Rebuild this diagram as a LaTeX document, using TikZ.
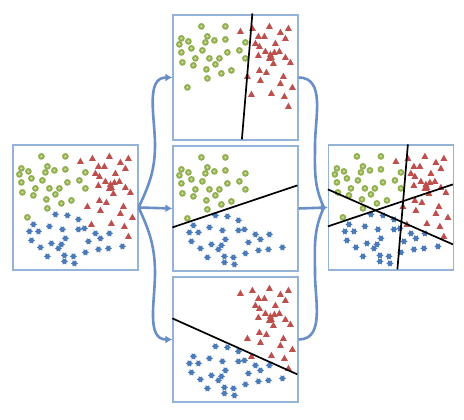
\documentclass[tikz,border=0pt]{standalone}
\usepackage{xcolor}
\usetikzlibrary{arrows.meta}

\definecolor{panelblue}{HTML}{95B3D7}
\definecolor{arrowblue}{HTML}{6A8FC6}
\definecolor{ptgreen}{HTML}{93B050}
\definecolor{ptgreenlt}{HTML}{C9DBA0}
\definecolor{ptred}{HTML}{BD4F4C}
\definecolor{ptblue}{HTML}{4A7AB8}

\tikzset{
  panel/.style={draw=panelblue, line width=1.2pt, minimum size=125pt, inner sep=0pt},
  flow/.style={draw=arrowblue, line width=2.6pt},
  cut/.style={black, line width=1.7pt},
  grn/.pic={\fill[ptgreen] (0,0) circle (3.4); \fill[ptgreenlt] (0,0) circle (1.3);},
  tri/.pic={\fill[ptred] (-3.5,-2.6) -- (3.5,-2.6) -- (0,3.7) -- cycle;},
  blu/.pic={\fill[ptblue] (0:3.6) -- (30:2.2) -- (60:3.6) -- (90:2.2) -- (120:3.6) -- (150:2.2)
      -- (180:3.6) -- (210:2.2) -- (240:3.6) -- (270:2.2) -- (300:3.6) -- (330:2.2) -- cycle;}
}

% the three classes, same places in every panel (y grows downwards)
\newcommand{\greenpts}{%
  \foreach \x/\y in {29/12,53/12,35/22,9/24,16/27,33/28,42/26,53/25,7/30,73/28,
                     19/34,30/36,9/38,55/38,67/36,23/44,37/44,47/44,10/48,73/44,
                     21/51,43/50,34/55,59/56,49/59,35/64,15/73}
    \pic at (\x,\y) {grn};
}
\newcommand{\redpts}{%
  \foreach \x/\y in {68/17,80/14,97/12,116/14,108/18,86/22,92/22,113/24,83/29,87/32,
                     103/29,107/37,93/37,86/41,98/40,102/38,97/44,99/43,101/49,113/43,
                     118/48,87/56,94/58,75/62,111/62,88/66,108/69,120/73,79/80,99/79,
                     112/82,116/92}
    \pic at (\x,\y) {tri};
}
\newcommand{\bluepts}{%
  \foreach \x/\y in {43/70,55/71,66/75,21/80,37/82,17/87,26/87,50/85,66/85,72/84,
                     83/89,97/89,53/94,88/94,19/96,76/97,39/99,49/100,46/104,28/103,
                     86/105,96/104,110/102,73/108,35/112,52/111,61/112,52/117,62/119}
    \pic at (\x,\y) {blu};
}

\begin{document}
\begin{tikzpicture}[x=1pt, y=1pt]
\useasboundingbox (0,0) rectangle (464,420);

% panels
\node[panel] (src) at (75.5,212.5) {};
\node[panel] (top) at (235.5,342.5) {};
\node[panel] (mid) at (235.5,211.5) {};
\node[panel] (bot) at (235.5,80.5) {};
\node[panel] (res) at (391,212.5) {};

% points and separating lines
\begin{scope}[shift={(src.north west)}, yscale=-1]
  \greenpts \redpts \bluepts
\end{scope}
\begin{scope}[shift={(top.north west)}, yscale=-1]
  \greenpts \redpts
  \draw[cut] (80,-1) -- (69.5,125);
\end{scope}
\begin{scope}[shift={(mid.north west)}, yscale=-1]
  \greenpts \bluepts
  \draw[cut] (0,82) -- (125,40);
\end{scope}
\begin{scope}[shift={(bot.north west)}, yscale=-1]
  \redpts \bluepts
  \draw[cut] (0,42) -- (125,98);
\end{scope}
\begin{scope}[shift={(res.north west)}, yscale=-1]
  \greenpts \redpts \bluepts
  \draw[cut] (80,0) -- (69.5,125);
  \draw[cut] (0,82) -- (125,40);
  \draw[cut] (0,45) -- (125,100);
\end{scope}

% braces
\coordinate (lt) at (155,275);
\coordinate (lb) at (155,146);
\coordinate (rt) at (315,275);
\coordinate (rb) at (315,146);
\draw[flow, -{Latex[length=7pt,width=8pt]}] (src.east) to[out=65,in=-90] (lt) to[out=90,in=180] (top.west);
\draw[flow, -{Latex[length=7pt,width=8pt]}] (src.east) -- (mid.west);
\draw[flow, -{Latex[length=7pt,width=8pt]}] (src.east) to[out=-65,in=90] (lb) to[out=-90,in=180] (bot.west);
\draw[flow] (top.east) to[out=0,in=90] (rt) to[out=-90,in=115] ([xshift=-4pt]res.west);
\draw[flow] (bot.east) to[out=0,in=-90] (rb) to[out=90,in=-115] ([xshift=-4pt]res.west);
\draw[flow, -{Latex[length=7pt,width=8pt]}] (mid.east) -- (res.west);
\end{tikzpicture}
\end{document}
